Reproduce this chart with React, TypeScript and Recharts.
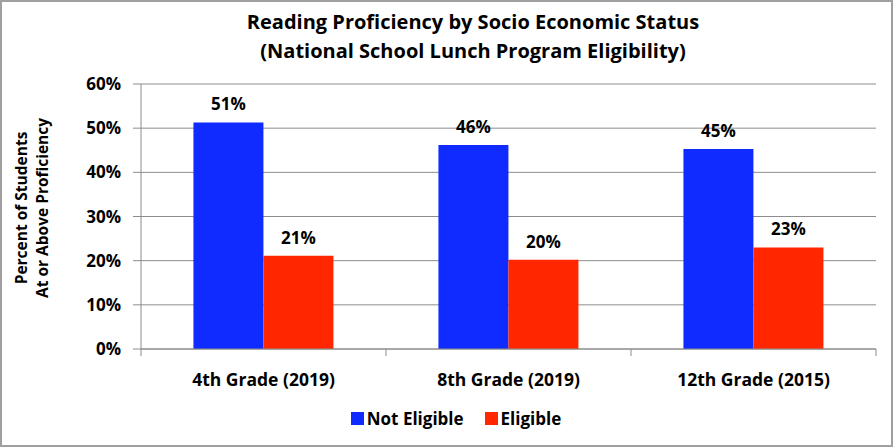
import { BarChart, Bar, XAxis, YAxis, CartesianGrid, Legend, LabelList } from 'recharts'

const grades = ['4th Grade (2019)', '8th Grade (2019)', '12th Grade (2015)']
const notEligible = [51.3, 46.2, 45.3]
const eligible = [21.1, 20.2, 23.0]
const yTicks = [0, 10, 20, 30, 40, 50, 60]

const data = grades.map((g, i) => ({ grade: g, notEligible: notEligible[i], eligible: eligible[i] }))

const BLUE = '#0f2bff'
const RED = '#ff2600'
const GRID = '#8c8c8c'
const FONT = '"Open Sans", "Liberation Sans", sans-serif'

function GradeTick(props: any) {
  const { x, y, payload, index } = props
  const half = payload && payload.offset ? payload.offset : 122.5
  return (
    <g>
      <line x1={x - half} y1={y} x2={x - half} y2={y + 7} stroke={GRID} strokeWidth={1} />
      {index === grades.length - 1 && (
        <line x1={x + half} y1={y} x2={x + half} y2={y + 7} stroke={GRID} strokeWidth={1} />
      )}
      <text x={x} y={y + 37} textAnchor="middle" fill="#000" fontSize={17.5} fontWeight={700}>
        {payload.value}
      </text>
    </g>
  )
}

function YTitle() {
  return (
    <g fontSize={15.5} fontWeight={700} fill="#000">
      <text x={27} y={208} textAnchor="middle" transform="rotate(-90 27 208)">Percent of Students</text>
      <text x={48} y={208} textAnchor="middle" transform="rotate(-90 48 208)">At or Above Proficiency</text>
    </g>
  )
}

function LegendBox() {
  const items = [
    { name: 'Not Eligible', color: BLUE },
    { name: 'Eligible', color: RED },
  ]
  return (
    <div style={{ height: 20, display: 'flex', justifyContent: 'center', alignItems: 'center', gap: 21, fontSize: 17, fontWeight: 700, paddingLeft: 36 }}>
      {items.map((it) => (
        <span key={it.name} style={{ display: 'flex', alignItems: 'center' }}>
          <span style={{ width: 13, height: 13, background: it.color, marginRight: 3, display: 'inline-block' }} />
          {it.name}
        </span>
      ))}
    </div>
  )
}

export default function App() {
  return (
    <div style={{ position: 'absolute', left: 0, top: 0, width: 893, height: 447, background: '#fff', fontFamily: FONT }}>
      <div style={{ position: 'absolute', left: 0, top: 7, width: 946, textAlign: 'center', fontSize: 20, fontWeight: 700, lineHeight: '29px', color: '#000' }}>
        Reading Proficiency by Socio Economic Status
        <br />
        (National School Lunch Program Eligibility)
      </div>
      <BarChart
        width={893}
        height={447}
        data={data}
        margin={{ top: 84, right: 17, left: 0, bottom: 19 }}
        barCategoryGap="21.4%"
        barGap={0}
      >
        <CartesianGrid vertical={false} stroke={GRID} />
        <XAxis
          dataKey="grade"
          tick={<GradeTick />}
          tickLine={false}
          tickSize={0}
          tickMargin={0}
          height={59}
          axisLine={{ stroke: GRID }}
          interval={0}
        />
        <YAxis
          domain={[0, 60]}
          ticks={yTicks}
          tickFormatter={(v: number) => `${v}%`}
          width={141}
          tickSize={8}
          tickMargin={12}
          axisLine={{ stroke: GRID }}
          tickLine={{ stroke: GRID }}
          tick={{ fill: '#000', fontSize: 17, fontWeight: 700 }}
          label={{ content: () => <YTitle /> }}
        />
        <Legend verticalAlign="bottom" content={() => <LegendBox />} />
        <Bar dataKey="notEligible" name="Not Eligible" fill={BLUE} isAnimationActive={false}>
          <LabelList dataKey="notEligible" position="top" offset={12} formatter={(v: any) => `${Math.round(v)}%`} fill="#000" fontSize={17} fontWeight={700} />
        </Bar>
        <Bar dataKey="eligible" name="Eligible" fill={RED} isAnimationActive={false}>
          <LabelList dataKey="eligible" position="top" offset={12} formatter={(v: any) => `${Math.round(v)}%`} fill="#000" fontSize={17} fontWeight={700} />
        </Bar>
      </BarChart>
      <div style={{ position: 'absolute', left: 0, top: 0, width: 893, height: 447, boxSizing: 'border-box', border: '2px solid #a0a0a0', pointerEvents: 'none' }} />
    </div>
  )
}
